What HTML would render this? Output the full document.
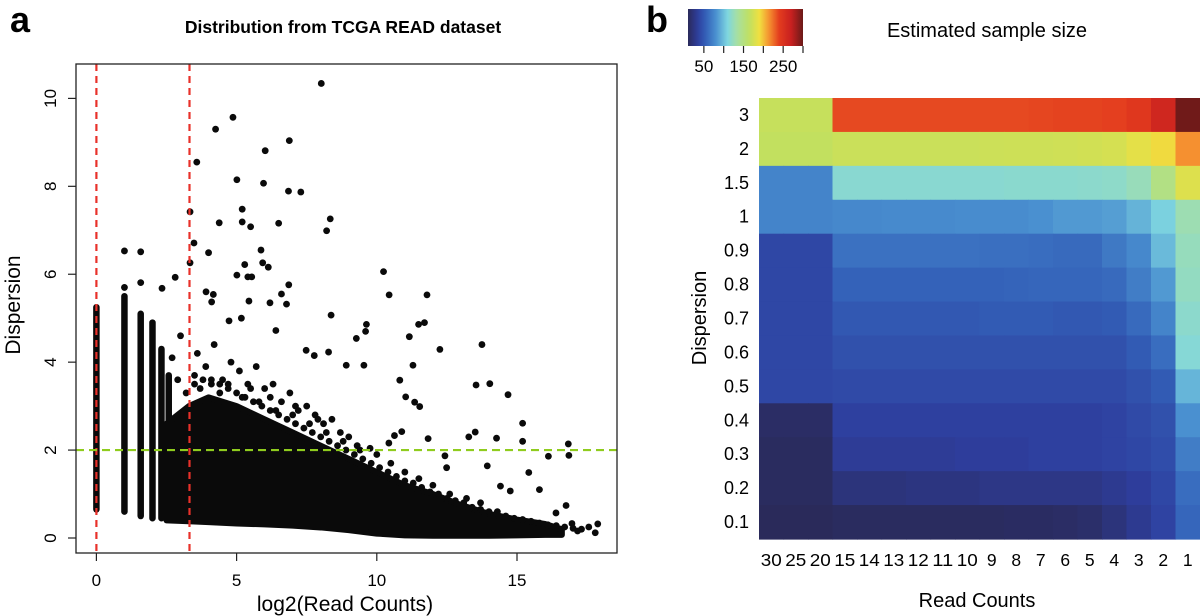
<!DOCTYPE html>
<html><head><meta charset="utf-8">
<style>
html,body{margin:0;padding:0;background:#fff;}
svg{display:block;font-family:"Liberation Sans",Arial,sans-serif;}
</style></head>
<body>
<svg id="fig" width="1200" height="616" viewBox="0 0 1200 616">
  <text x="10" y="32" font-size="36" font-weight="bold">a</text>
  <text x="343" y="33" font-size="17.5" font-weight="bold" text-anchor="middle">Distribution from TCGA READ dataset</text>
  <g id="scatter"></g>
  <text x="345" y="611" font-size="21" text-anchor="middle">log2(Read Counts)</text>
  <text transform="translate(20,305) rotate(-90)" font-size="21" text-anchor="middle">Dispersion</text>

  <text x="646" y="32" font-size="36" font-weight="bold">b</text>
  <g id="cbar"></g>
  <text x="987" y="37" font-size="20" text-anchor="middle">Estimated sample size</text>
  <g id="heat"></g>
  <text x="977" y="607" font-size="20" text-anchor="middle">Read Counts</text>
  <text transform="translate(706,318) rotate(-90)" font-size="20" text-anchor="middle">Dispersion</text>
</svg>
<script>
// ---------- Scatter data ----------
const outX = [8.02,4.87,4.25,6.88,6.02,3.58,5.01,5.96,6.85,7.29,5.20,3.34,8.34,4.38,5.20,6.50,5.50,8.21,3.48,1.0,1.58,4.0,5.87,5.93,6.13,5.29,3.34,10.24,5.01,2.81,5.40,5.54,1.0,6.86,2.34,1.58,10.44,11.79,6.60,4.17,3.91,5.44,6.19,4.11,6.78,8.37,9.63,11.70,11.49,9.60,6.40,4.73,5.17,11.16,9.27,13.75,12.25,8.28,7.77,7.48,8.91,9.54,11.29,10.82,14.03,13.54,14.68,11.03,11.35,11.53,15.20,13.51,13.28,14.27,15.20,11.83,16.83,16.12,16.85,15.42,13.94,14.41,14.76,15.80,16.75,16.39,17.88,17.79,17.56,17.16,16.96,10.63,10.43,9.76,12.43,12.49,10.89,
 3.6,3.9,4.2,4.5,4.8,5.1,5.4,5.7,6.0,6.3,6.6,6.9,7.2,7.5,7.8,8.1,8.4,8.7,9.0,9.3,3.7,4.4,5.2,5.8,6.4,7.0,7.6,8.2,8.8,9.4,10.0,10.5,11.0,11.5,12.0,12.6,13.2,13.7,14.3,3.5,4.1,4.7,5.5,6.2,7.1,7.9,2.9,3.0,2.7,
 3.2,3.5,3.8,4.1,4.4,4.7,5.0,5.3,5.6,5.9,6.2,6.5,6.8,7.1,7.4,7.7,8.0,8.3,8.6,8.9,9.2,9.5,9.8,10.1,10.4,10.7,11.0,11.3,11.6,11.9,12.2,12.5,12.8,13.1,13.4,13.7,14.0,14.3,14.6,14.9,15.2,15.5,15.8,16.1,16.4,16.7,17.0,17.3];
const outY = [10.34,9.57,9.30,9.04,8.81,8.55,8.15,8.07,7.89,7.87,7.48,7.42,7.26,7.17,7.19,7.16,7.08,6.99,6.71,6.53,6.51,6.49,6.55,6.26,6.16,6.22,6.26,6.06,5.98,5.93,5.94,5.94,5.70,5.76,5.68,5.81,5.53,5.53,5.55,5.54,5.60,5.39,5.35,5.37,5.32,5.07,4.86,4.90,4.86,4.70,4.72,4.94,5.00,4.58,4.54,4.40,4.29,4.23,4.15,4.27,3.93,3.93,3.93,3.59,3.51,3.48,3.26,3.21,3.09,2.99,2.61,2.41,2.30,2.27,2.20,2.26,2.14,1.86,1.88,1.49,1.64,1.18,1.07,1.10,0.74,0.57,0.32,0.12,0.25,0.16,0.33,2.33,2.16,2.04,1.87,1.60,2.42,
 4.2,3.9,4.4,3.6,4.0,3.8,3.5,3.9,3.4,3.5,3.1,3.3,2.9,3.0,2.8,2.6,2.7,2.4,2.3,2.1,3.4,3.3,3.2,3.1,2.9,2.8,2.6,2.4,2.2,2.0,1.9,1.7,1.5,1.35,1.2,1.0,0.9,0.8,0.6,3.7,3.6,3.5,3.4,3.2,3.0,2.7,3.6,4.6,4.1,
 3.3,3.5,3.6,3.5,3.5,3.4,3.3,3.2,3.1,3.0,2.9,2.8,2.7,2.6,2.5,2.4,2.3,2.2,2.1,2.0,1.9,1.8,1.7,1.6,1.5,1.4,1.3,1.25,1.15,1.05,1.0,0.9,0.85,0.8,0.7,0.65,0.6,0.55,0.5,0.45,0.42,0.38,0.34,0.3,0.28,0.25,0.22,0.2];
const stripeX = [0,1,1.58,2,2.32,2.58];
const stripeLo = [0.65,0.6,0.5,0.45,0.45,0.42];
const stripeHi = [5.25,5.5,5.1,4.9,4.3,3.7];
const denseX   = [2.5,3.3,4,5,6,7,8,9,10,11,12,13,14,15,16,16.6];
const denseTop = [2.6,3.0,3.2,3.0,2.7,2.4,2.1,1.8,1.5,1.2,1.0,0.75,0.55,0.42,0.32,0.2];
const denseBot = [0.4,0.38,0.36,0.33,0.31,0.28,0.24,0.18,0.1,0.06,0.05,0.05,0.05,0.06,0.07,0.07];
const xTicks = [0,5,10,15];
const yTicks = [0,2,4,6,8,10];
const vLines = [0,3.32];
const hLines = [2];

// ---------- Heatmap data ----------
const colLabels = ["30","25","20","15","14","13","12","11","10","9","8","7","6","5","4","3","2","1"];
const heatRows = ["3","2","1.5","1","0.9","0.8","0.7","0.6","0.5","0.4","0.3","0.2","0.1"];
const heatValues = [
 [168,168,168,236,236,236,236,236,236,236,236,237,238,238,239,245,262,298],
 [166,166,166,170,170,170,170,170,170,171,172,172,173,174,176,184,192,215],
 [74,74,74,116,116,116,116,116,116,116,117,117,117,118,119,125,148,180],
 [74,74,74,76,76,77,77,77,78,78,78,80,84,84,86,95,108,128],
 [40,40,40,64,64,64,64,64,64,63,63,62,60,60,68,76,98,124],
 [40,40,40,56,56,56,56,56,56,56,57,58,58,58,60,70,84,122],
 [40,40,40,50,50,50,50,50,50,52,52,52,50,50,52,60,74,118],
 [40,40,40,46,46,46,46,46,46,46,46,46,46,46,46,52,62,114],
 [40,40,40,42,42,42,42,42,42,42,42,42,42,42,42,46,52,96],
 [14,14,14,36,36,36,36,36,36,36,36,36,36,36,38,42,46,80],
 [12,12,12,32,32,32,32,32,34,34,34,36,36,36,38,40,44,70],
 [12,12,12,22,22,22,24,24,24,26,26,26,26,26,30,34,40,62],
 [10,10,10,12,12,12,12,12,12,12,13,13,14,16,22,30,38,58]
];
const cbarTicks = [50,100,150,200,250,300];
const cbarLabels = [50,150,250];

// ---------- scatter drawing ----------
const NS="http://www.w3.org/2000/svg";
function mk(tag,attrs,parent){const e=document.createElementNS(NS,tag);for(const k in attrs)e.setAttribute(k,attrs[k]);parent.appendChild(e);return e;}
const box={l:76,r:617,t:64,b:553};
const sx=v=>96.4+v*28.04;
const sy=v=>538-v*43.96;
const sc=document.getElementById('scatter');

let pts=[];
for(let i=0;i<denseX.length;i++)pts.push(sx(denseX[i])+','+sy(denseTop[i]));
for(let i=denseX.length-1;i>=0;i--)pts.push(sx(denseX[i])+','+sy(denseBot[i]));
const poly=mk('polygon',{points:pts.join(' '),fill:'#0a0a0a',stroke:'#0a0a0a','stroke-width':6,'stroke-linejoin':'round'},sc);



for(let i=0;i<stripeX.length;i++){
  const r=mk('line',{x1:sx(stripeX[i]),x2:sx(stripeX[i]),y1:sy(stripeHi[i]),y2:sy(stripeLo[i]),stroke:'#0a0a0a','stroke-width':6.5,'stroke-linecap':'round'},sc);
  
  
}
for(let i=0;i<outX.length;i++){
  const c=mk('circle',{cx:sx(outX[i]),cy:sy(outY[i]),r:3.4,fill:'#0a0a0a'},sc);
  
  
}
for(const v of vLines){
  const l=mk('line',{x1:sx(v),x2:sx(v),y1:box.t,y2:box.b,stroke:'#e8312a','stroke-width':2.2,'stroke-dasharray':'7,5'},sc);
  
  
}
for(const v of hLines){
  const l=mk('line',{x1:box.l,x2:box.r,y1:sy(v),y2:sy(v),stroke:'#8fcc1e','stroke-width':2.2,'stroke-dasharray':'8,5'},sc);
  
  
}
const bx=mk('rect',{x:box.l,y:box.t,width:box.r-box.l,height:box.b-box.t,fill:'none',stroke:'#222','stroke-width':1.3},sc);


for(const t of xTicks){
  const l=mk('line',{x1:sx(t),x2:sx(t),y1:box.b,y2:box.b+8,stroke:'#222','stroke-width':1.2},sc);
  
  
  const tx=mk('text',{x:sx(t),y:586,'font-size':17,'text-anchor':'middle'},sc);
  tx.textContent=t;
  
  
}
for(const t of yTicks){
  const l=mk('line',{x1:box.l-8,x2:box.l,y1:sy(t),y2:sy(t),stroke:'#222','stroke-width':1.2},sc);
  
  
  const tx=mk('text',{transform:`translate(56,${sy(t)}) rotate(-90)`,'font-size':17,'text-anchor':'middle'},sc);
  tx.textContent=t;
  
  
}

// ---------- colormap ----------
const stops=[[10,[42,42,90]],[35,[46,62,158]],[55,[51,96,184]],[80,[74,144,208]],[110,[127,214,224]],[135,[168,224,160]],[165,[192,224,96]],[190,[240,224,64]],[215,[245,144,48]],[240,[227,60,30]],[270,[200,32,32]],[300,[106,26,24]]];
function cmap(v){
  if(v<=stops[0][0])return `rgb(${stops[0][1]})`;
  for(let i=1;i<stops.length;i++){
    if(v<=stops[i][0]){const a=stops[i-1],b=stops[i],f=(v-a[0])/(b[0]-a[0]);
      return 'rgb('+a[1].map((c,k)=>Math.round(c+(b[1][k]-c)*f)).join(',')+')';}
  }
  return `rgb(${stops[stops.length-1][1]})`;
}
const cb=document.getElementById('cbar');
const grad=mk('defs',{},cb);
const lg=mk('linearGradient',{id:'cg',x1:0,x2:1,y1:0,y2:0},grad);
for(let v=10;v<=300;v+=10){mk('stop',{offset:((v-10)/290),'stop-color':cmap(v)},lg);}
const cr=mk('rect',{x:688,y:9,width:115,height:37,fill:'url(#cg)'},cb);


const cbs=v=>688+(v-10)/290*115;
for(const t of cbarTicks){
  const l=mk('line',{x1:cbs(t),x2:cbs(t),y1:46,y2:53,stroke:'#222','stroke-width':1.2},cb);
  
  
}
for(const t of cbarLabels){
  const tx=mk('text',{x:cbs(t),y:72,'font-size':17,'text-anchor':'middle'},cb);
  tx.textContent=t;
  
  
}
const hm=document.getElementById('heat');
const hx0=759,hy0=98,cw=24.5;
const nR=heatValues.length;
const rowH=441/nR;
for(let r=0;r<nR;r++){
  for(let c=0;c<colLabels.length;c++){
    const rc=mk('rect',{x:hx0+c*cw,y:hy0+r*rowH,width:cw+0.6,height:rowH+0.6,fill:cmap(heatValues[r][c])},hm);
    
    
  }
  const tx=mk('text',{x:749,y:hy0+(r+0.5)*rowH+6,'font-size':18,'text-anchor':'end'},hm);
  tx.textContent=heatRows[r];
  
  
}
for(let c=0;c<colLabels.length;c++){
  const tx=mk('text',{x:hx0+(c+0.5)*cw,y:566,'font-size':17.5,'text-anchor':'middle','textLength':c<15?21:10,'lengthAdjust':'spacingAndGlyphs'},hm);
  if(colLabels[c].length===1)tx.removeAttribute('textLength');
  tx.textContent=colLabels[c];
  
  
}
</script>
</body></html>
